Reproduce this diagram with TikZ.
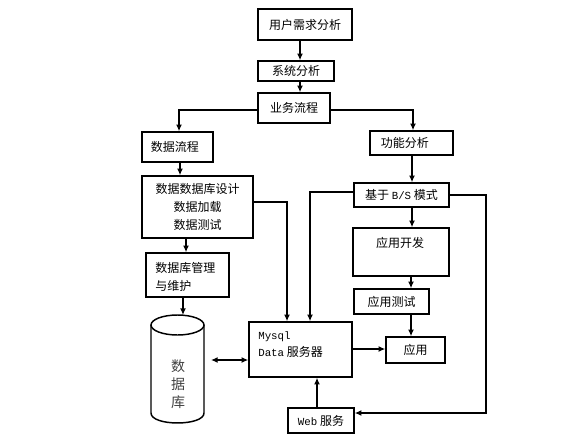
\documentclass[tikz,border=0pt]{standalone}
\usepackage{fontspec}
\setmainfont{Noto Sans CJK SC}
\setmonofont{Liberation Mono}[Scale=0.9]
\usetikzlibrary{arrows.meta,fit}
\tikzset{
  box/.style={draw, line width=1.1pt, inner sep=0pt},
  arr/.style={line width=1.1pt, -{Latex[length=5pt,width=4.5pt]}},
  dbl/.style={line width=1.1pt, {Latex[length=5pt,width=4.5pt]}-{Latex[length=5pt,width=4.5pt]}},
  ln/.style={line width=1.1pt},
  lbl/.style={font=\fontsize{9}{13.5}\selectfont, inner sep=0pt}
}
\begin{document}
\begin{tikzpicture}[x=0.75pt,y=-0.75pt]
\useasboundingbox (0,0) rectangle (585,439);
% boxes
\node[box, fit={(258,9) (352,40)}] (A) {};
\node[lbl] (At) at (A.center) {用户需求分析};
\node[box, fit={(258,61) (334,81)}] (B) {};
\node[lbl] (Bt) at (B.center) {系统分析};
\node[box, fit={(258,93) (330,123)}] (C) {};
\node[lbl] (Ct) at (C.center) {业务流程};
\node[box, fit={(142,132) (213,162)}] (D) {};
\node[lbl] (Dt) at ([xshift=-2pt]D.center) {数据流程};
\node[box, fit={(370,131) (453,155)}] (E) {};
\node[lbl] (Et) at ([xshift=-5pt]E.center) {功能分析};
\node[box, fit={(142,176) (253,238)}] (F) {};
\node[lbl, align=center] (Ft) at (F.center) {数据数据库设计\\数据加载\\数据测试};
\node[box, fit={(354,183) (449,207)}] (G) {};
\node[lbl] (Gt) at (G.center) {基于 \texttt{B/S} 模式};
\node[box, fit={(353,228) (449,276)}] (H) {};
\node[lbl] (Ht) at (400,243) {应用开发};
\node[box, fit={(354,289) (429,314)}] (I) {};
\node[lbl] (It) at (I.center) {应用测试};
\node[box, fit={(386,337) (445,363)}] (J) {};
\node[lbl] (Jt) at (J.center) {应用};
\node[box, fit={(146,253) (229,297)}] (K) {};
\node[lbl, anchor=west, align=left] (Kt) at (155,276.5) {数据库管理\\与维护};
\node[box, fit={(249,322) (352,377)}] (L) {};
\node[lbl, anchor=west, align=left, font=\fontsize{9}{13}\selectfont] (Lt) at (258,344.5) {\texttt{Mysql}\\\texttt{Data} 服务器};
\node[box, fit={(288,408) (354,433)}] (M) {};
\node[lbl] (Mt) at (M.center) {\texttt{Web} 服务};
% cylinder
\draw[ln] (177.5,325) ellipse [x radius=26.5, y radius=10];
\draw[ln] (151,325) -- (151,413) .. controls (151,426.3) and (204,426.3) .. (204,413) -- (204,325);
\node[lbl, font=\fontsize{10.5}{13.5}\selectfont, text=black!75, align=center] (cylt) at (178,384) {数\\据\\库};
% helper coordinates
\coordinate (x300) at (300,0);
\coordinate (x180) at (180,0);
\coordinate (x186) at (186,0);
\coordinate (x412) at (412,0);
\coordinate (x411) at (411,0);
\coordinate (x317) at (317,0);
\coordinate (cl) at (179,110);
\coordinate (cr) at (413,110);
\coordinate (kx) at (183,315);
\coordinate (fx) at (287,202);
\coordinate (gx) at (310,192);
\coordinate (gw) at (486,413);
\coordinate (cylr) at (211,360);
\coordinate (ly) at (0,349);
% connectors
\draw[arr] (A.south -| x300) -- (B.north -| x300);
\draw[arr] (B.south -| x300) -- (C.north -| x300);
\draw[arr] (C.west |- cl) -- (cl) -- (cl |- D.north);
\draw[arr] (C.east |- cr) -- (cr) -- (cr |- E.north);
\draw[arr] (D.south -| x180) -- (F.north -| x180);
\draw[arr] (E.south -| x412) -- (G.north -| x412);
\draw[arr] (F.south -| x186) -- (K.north -| x186);
\draw[arr] (K.south -| kx) -- (kx);
\draw[arr] (F.east |- fx) -- (fx) -- (fx |- L.north);
\draw[arr] (G.west |- gx) -- (gx) -- (gx |- L.north);
\draw[arr] (G.east) -| (gw) -- (gw -| M.east);
\draw[arr] (M.north -| x317) -- (L.south -| x317);
\draw[arr] (L.east |- ly) -- (J.west |- ly);
\draw[arr] (G.south -| x412) -- (H.north -| x412);
\draw[arr] (H.south -| x411) -- (I.north -| x411);
\draw[arr] (I.south -| x411) -- (J.north -| x411);
\draw[dbl] (cylr) -- (cylr -| L.west);
\end{tikzpicture}
\end{document}
